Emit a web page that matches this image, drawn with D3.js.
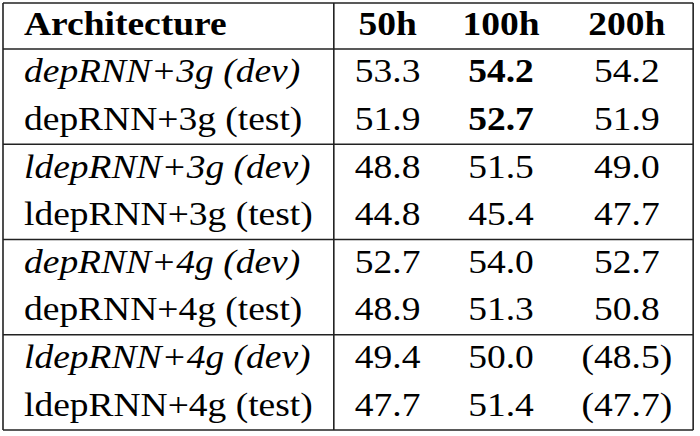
<!DOCTYPE html>
<html>
<head>
<meta charset="utf-8">
<script src="https://cdn.jsdelivr.net/npm/d3@7"></script>
<style>
  html, body { margin: 0; padding: 0; background: #fff; }
</style>
</head>
<body>
<div id="table_viz"></div>
<script>
// table contents
var columns = ["Architecture", "50h", "100h", "200h"];
var architectures = [
  "depRNN+3g (dev)", "depRNN+3g (test)",
  "ldepRNN+3g (dev)", "ldepRNN+3g (test)",
  "depRNN+4g (dev)", "depRNN+4g (test)",
  "ldepRNN+4g (dev)", "ldepRNN+4g (test)"
];
var hours50  = [53.3, 51.9, 48.8, 44.8, 52.7, 48.9, 49.4, 47.7];
var hours100 = [54.2, 52.7, 51.5, 45.4, 54.0, 51.3, 50.0, 51.4];
var hours200 = [54.2, 51.9, 49.0, 47.7, 52.7, 50.8, 48.5, 47.7];
// best results (bold) and bracketed results
var boldCells = [[0, "100h"], [1, "100h"]];
var bracketCells = [[6, "200h"], [7, "200h"]];

var width = 700, height = 436;
var tLeft = 3, tTop = 3, headerBottom = 49, tBottom = 430;
var colSep = 21, fontSize = 37.5, squash = 0.92;
var serif = "Liberation Serif";

var svg = d3.select("#table_viz")
  .append("svg")
    .attr("width", width)
    .attr("height", height);

var values = { "50h": hours50, "100h": hours100, "200h": hours200 };

function isIn(list, r, c) {
  return list.some(function(d) { return d[0] === r && d[1] === c; });
}

// build the cell list
var cells = [];
columns.forEach(function(c) {
  cells.push({ row: -1, col: c, text: c, bold: true, italic: false });
});
architectures.forEach(function(a, i) {
  cells.push({ row: i, col: "Architecture", text: a, bold: false, italic: a.indexOf("(dev)") >= 0 });
  ["50h", "100h", "200h"].forEach(function(c) {
    var t = values[c][i].toFixed(1);
    if (isIn(bracketCells, i, c)) t = "(" + t + ")";
    cells.push({ row: i, col: c, text: t, bold: isIn(boldCells, i, c), italic: false });
  });
});

// measure text to get column widths, the way LaTeX does
var measure = svg.append("g");
var colWidth = {};
columns.forEach(function(c) { colWidth[c] = 0; });
cells.forEach(function(d) {
  var t = measure.append("text")
    .attr("font-family", serif)
    .attr("font-size", fontSize)
    .attr("font-weight", d.bold ? "bold" : "normal")
    .attr("font-style", d.italic ? "italic" : "normal")
    .text(d.text);
  colWidth[d.col] = Math.max(colWidth[d.col], t.node().getComputedTextLength());
});
measure.remove();

var colStart = {}, x0 = tLeft;
columns.forEach(function(c) {
  colStart[c] = x0;
  x0 += colWidth[c] + 2 * colSep;
});
var tRight = Math.min(x0, width - 4);

// data rows
var y = d3.scaleBand()
  .domain(d3.range(architectures.length))
  .range([headerBottom, tBottom]);

function baseline(r) {
  if (r < 0) return tTop + 0.7 * (headerBottom - tTop);
  return y(r) + 0.7 * y.bandwidth();
}

svg.selectAll("text.cell")
  .data(cells)
  .enter()
  .append("text")
    .attr("class", "cell")
    .attr("transform", function(d) {
      var x = d.col === "Architecture" ? colStart[d.col] + colSep
                                       : colStart[d.col] + colSep + colWidth[d.col] / 2;
      return "translate(" + x + "," + baseline(d.row) + ") scale(1," + squash + ")";
    })
    .attr("text-anchor", function(d) { return d.col === "Architecture" ? "start" : "middle"; })
    .attr("font-family", serif)
    .attr("font-size", fontSize)
    .attr("font-weight", function(d) { return d.bold ? "bold" : "normal"; })
    .attr("font-style", function(d) { return d.italic ? "italic" : "normal"; })
    .attr("fill", "#000")
    .text(function(d) { return d.text; });

// rules
var hLines = [tTop, headerBottom];
d3.range(2, architectures.length + 1, 2).forEach(function(i) {
  hLines.push(i === architectures.length ? tBottom : y(i));
});
svg.selectAll("line.h")
  .data(hLines)
  .enter()
  .append("line")
    .attr("x1", tLeft).attr("x2", tRight)
    .attr("y1", function(d) { return d; })
    .attr("y2", function(d) { return d; })
    .style("stroke", "#222")
    .style("stroke-width", 1.6);

var vLines = [tLeft, colStart["50h"], tRight];
svg.selectAll("line.v")
  .data(vLines)
  .enter()
  .append("line")
    .attr("x1", function(d) { return d; })
    .attr("x2", function(d) { return d; })
    .attr("y1", tTop).attr("y2", tBottom)
    .style("stroke", "#222")
    .style("stroke-width", 1.6);
</script>
</body>
</html>
